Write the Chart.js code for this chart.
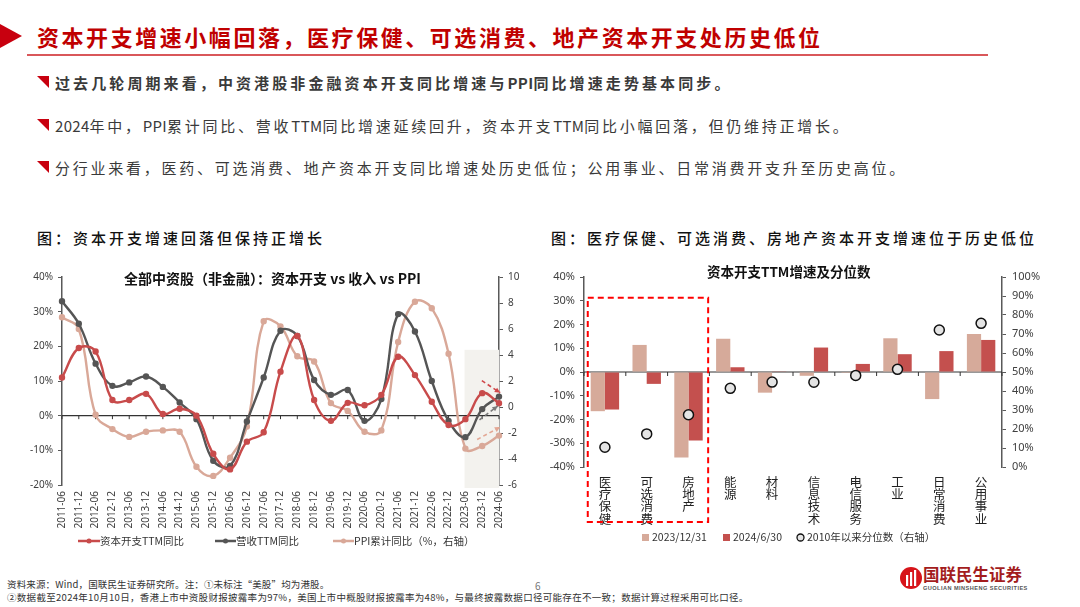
<!DOCTYPE html>
<html><head><meta charset="utf-8">
<script src="https://cdn.jsdelivr.net/npm/chart.js@4.4.1/dist/chart.umd.min.js"></script>
<style>
html,body{margin:0;padding:0;background:#fff;}
#page{position:relative;width:1080px;height:607px;overflow:hidden;font-family:"Noto Sans CJK SC","Noto Sans",sans-serif;}
.abs{position:absolute;white-space:nowrap;}
#title{left:37px;top:21px;font-size:22px;line-height:30px;color:#c00000;font-weight:700;letter-spacing:2.55px;}
#tri{left:0;top:24px;width:0;height:0;border-top:12px solid transparent;border-bottom:12px solid transparent;border-left:22px solid #c8000f;}
#rule{left:27px;top:54px;width:961px;height:1.5px;background:#d9575a;}
.bul{left:55px;font-size:15px;line-height:20px;color:#3a3a3a;}
.mk{position:absolute;left:37px;width:0;height:0;border-top:12px solid #c8000f;border-left:12px solid transparent;}
.lat{letter-spacing:0.3px;}
.sub{font-size:15px;line-height:20px;color:#111;font-weight:500;letter-spacing:3px;top:228px;}
.ctitle{font-size:14px;font-weight:700;color:#111;line-height:18px;}
canvas{position:absolute;}
.leg{font-size:10.5px;color:#333;line-height:14px;}
.foot{font-size:9.5px;color:#333;left:7px;line-height:12px;}
</style></head>
<body><div id="page">
<div id="tri" class="abs"></div>
<div id="title" class="abs">资本开支增速小幅回落，医疗保健、可选消费、地产资本开支处历史低位</div>
<div id="rule" class="abs"></div>

<div class="mk" style="top:76px"></div>
<div class="abs bul" style="top:73px;font-weight:700;letter-spacing:3.1px;">过去几轮周期来看，中资港股非金融资本开支同比增速与<span class="lat">PPI</span>同比增速走势基本同步。</div>
<div class="mk" style="top:119px"></div>
<div class="abs bul" style="top:116px;letter-spacing:2.75px;"><span class="lat">2024</span>年中，<span class="lat">PPI</span>累计同比、营收<span class="lat">TTM</span>同比增速延续回升，资本开支<span class="lat">TTM</span>同比小幅回落，但仍维持正增长。</div>
<div class="mk" style="top:161px"></div>
<div class="abs bul" style="top:158px;letter-spacing:2.75px;">分行业来看，医药、可选消费、地产资本开支同比增速处历史低位；公用事业、日常消费开支升至历史高位。</div>

<div class="abs sub" style="left:37px;">图：资本开支增速回落但保持正增长</div>
<div class="abs sub" style="left:551px;">图：医疗保健、可选消费、房地产资本开支增速位于历史低位</div>

<canvas id="cL" width="540" height="300" style="left:0;top:260px;width:540px;height:300px;"></canvas>
<canvas id="cR" width="540" height="300" style="left:540px;top:260px;width:540px;height:300px;"></canvas>

<div class="abs ctitle" style="left:124px;top:269px;">全部中资股（非金融）：资本开支 vs 收入 vs PPI</div>
<div class="abs ctitle" style="left:707px;top:262px;font-size:13.5px;">资本开支TTM增速及分位数</div>

<!-- left legend -->
<div class="abs leg" style="left:78px;top:534px;">
  <svg width="22" height="10" style="vertical-align:-1px"><line x1="0" y1="5" x2="22" y2="5" stroke="#c84b4b" stroke-width="2.5"/><circle cx="11" cy="5" r="2.5" fill="#c84b4b"/></svg>资本开支TTM同比</div>
<div class="abs leg" style="left:215px;top:534px;">
  <svg width="21" height="10" style="vertical-align:-1px"><line x1="0" y1="5" x2="21" y2="5" stroke="#555" stroke-width="2.5"/><circle cx="10.5" cy="5" r="2.5" fill="#555"/></svg>营收TTM同比</div>
<div class="abs leg" style="left:333px;top:534px;">
  <svg width="21" height="10" style="vertical-align:-1px"><line x1="0" y1="5" x2="21" y2="5" stroke="#d9a898" stroke-width="2.5"/><circle cx="10.5" cy="5" r="2.5" fill="#d9a898"/></svg>PPI累计同比（%，右轴）</div>

<!-- right legend -->
<div class="abs leg" style="left:642px;top:530px;"><span style="display:inline-block;width:7px;height:7px;background:#d6aa9a;margin-right:3px;"></span>2023/12/31</div>
<div class="abs leg" style="left:723px;top:530px;"><span style="display:inline-block;width:7px;height:7px;background:#c4504e;margin-right:3px;"></span>2024/6/30</div>
<div class="abs leg" style="left:796px;top:530px;"><svg width="9" height="9" style="vertical-align:-1px;margin-right:2px"><circle cx="4.5" cy="4.5" r="3.5" fill="#e6e6e6" stroke="#111" stroke-width="1.3"/></svg>2010年以来分位数（右轴）</div>

<div class="abs foot" style="top:578px;letter-spacing:0.15px;">资料来源：Wind，国联民生证券研究所。注：①未标注“美股”均为港股。</div>
<div class="abs foot" style="top:591px;letter-spacing:0.3px;">②数据截至2024年10月10日，香港上市中资股财报披露率为97%，美国上市中概股财报披露率为48%，与最终披露数据口径可能存在不一致；数据计算过程采用可比口径。</div>
<div class="abs" style="left:535px;top:578px;font-size:10px;color:#777;">6</div>

<!-- logo -->
<svg class="abs" style="left:899px;top:566px;" width="24" height="24" viewBox="0 0 24 24">
  <circle cx="12" cy="12" r="11" fill="#d7141a"/>
  <rect x="7" y="9" width="2.2" height="11" fill="#fff"/>
  <rect x="11" y="6" width="2.2" height="14" fill="#fff"/>
  <rect x="15" y="4" width="2.2" height="16" fill="#fff"/>
</svg>
<div class="abs" style="left:923px;top:564px;font-size:16.5px;font-weight:700;color:#a31d1d;line-height:20px;">国联民生证券</div>
<div class="abs" style="left:923px;top:585px;font-size:5.6px;font-weight:700;color:#555;letter-spacing:0.45px;font-family:'Liberation Sans',sans-serif;">GUOLIAN MINSHENG SECURITIES</div>
</div>

<script>
// ---------- Left chart data ----------
const halfYears = ['2011-06','2011-12','2012-06','2012-12','2013-06','2013-12','2014-06','2014-12','2015-06','2015-12','2016-06','2016-12','2017-06','2017-12','2018-06','2018-12','2019-06','2019-12','2020-06','2020-12','2021-06','2021-12','2022-06','2022-12','2023-06','2023-12','2024-06'];
const capexYoY   = [11, 19.5, 18.5, 4.5, 4.5, 6.3, 0.5, 2, 0, -11, -15.5, -7.5, -4.8, 12.7, 23, 4.5, -1.5, 3.7, 3, 6, 17, 11.7, 4, -2.7, -1, 6.5, 3.6];
const revenueYoY = [33, 26.5, 15, 8.6, 9.6, 11.3, 8.3, 3.8, -1, -13, -14.5, -1.7, 11, 24.5, 23, 10.3, 6, 7.4, -1.5, 4.8, 29.3, 24.3, 10, -1.5, -6.2, 1.9, 5.5];
const ppiYtd     = [6.9, 6.0, -0.6, -1.7, -2.3, -1.9, -1.8, -1.9, -4.6, -5.3, -3.9, -1.5, 6.6, 6.2, 3.9, 3.5, 0.3, -0.3, -1.9, -1.8, 5.0, 8.1, 7.6, 4.1, -3.2, -3.0, -2.2];
const leftTicks  = [-20, -10, 0, 10, 20, 30, 40];
const rightTicks = [-6, -4, -2, 0, 2, 4, 6, 8, 10];
// trend arrows (x = half-year index, y = value)
const capexArrow = [{x:24.98, y:10.1}, {x:26.07, y:6.6}];
const revArrow   = [{x:24.84, y:-1.2}, {x:25.93, y:2.8}];
const ppiArrow   = [{x:24.7, y:-2.5}, {x:26.07, y:-1.54}];
const shadeFromIndex = 23.95, shadeTopValue = 19;

// ---------- Right chart data ----------
const sectors = ['医疗保健','可选消费','房地产','能源','材料','信息技术','电信服务','工业','日常消费','公用事业'];
const capex2023 = [-16.5, 11.4, -36, 14, -8.7, -1.6, -0.4, 14.2, -11.4, 16];
const capex2024 = [-15.8, -5, -28.8, 2, 0.3, 10.3, 3.4, 7.5, 8.8, 13.5];
const pctSince2010 = [10.4, 17.4, 27.5, 41.4, 44.7, 44.6, 48.2, 51.4, 72.1, 75.6];
const highlightCount = 3, highlightTop = 31.3;

const RED = '#c84b4b', GRAY = '#555555', PINK = '#d9a898', AXIS = '#595959';
Chart.defaults.font.family = '"Noto Sans","Noto Sans CJK SC",sans-serif';
Chart.defaults.color = '#404040';

const arrowHeads = {
  id:'arrowHeads',
  afterDatasetsDraw(chart){
    const ctx = chart.ctx;
    chart.data.datasets.forEach((ds,i)=>{
      if(!ds.arrow) return;
      const pts = chart.getDatasetMeta(i).data;
      const a = pts[pts.length-2], b = pts[pts.length-1];
      const ang = Math.atan2(b.y-a.y, b.x-a.x), L = 6;
      ctx.save();
      ctx.fillStyle = ds.borderColor;
      ctx.beginPath();
      ctx.moveTo(b.x, b.y);
      ctx.lineTo(b.x - L*Math.cos(ang-0.45), b.y - L*Math.sin(ang-0.45));
      ctx.lineTo(b.x - L*Math.cos(ang+0.45), b.y - L*Math.sin(ang+0.45));
      ctx.closePath(); ctx.fill();
      ctx.restore();
    });
  }
};
const leftDecor = {
  id:'leftDecor',
  beforeDatasetsDraw(chart){
    const {ctx, chartArea:ca, scales} = chart;
    const xi = scales.xIdx, yL = scales.yL;
    ctx.save();
    ctx.fillStyle = '#f3f2ee';
    const x1 = xi.getPixelForValue(shadeFromIndex), y1 = yL.getPixelForValue(shadeTopValue);
    ctx.fillRect(x1, y1, ca.right - x1, ca.bottom + 3 - y1);
    const y0 = yL.getPixelForValue(0);
    ctx.strokeStyle = '#333'; ctx.lineWidth = 1.2;
    ctx.beginPath(); ctx.moveTo(ca.left, y0); ctx.lineTo(ca.right, y0); ctx.stroke();
    ctx.lineWidth = 1;
    halfYears.forEach((_,i)=>{
      const x = scales.x.getPixelForValue(i);
      ctx.beginPath(); ctx.moveTo(x, y0); ctx.lineTo(x, y0+3.5); ctx.stroke();
    });
    ctx.restore();
  }
};

function lineDs(label, data, color, axis, order){
  return {label, data, borderColor:color, backgroundColor:color, pointBackgroundColor:color, pointBorderColor:color,
    yAxisID:axis, xAxisID:'x', tension:0.4, borderWidth:2.4, pointRadius:2, order};
}
function arrowDs(data, color, axis){
  return {data, borderColor:color, backgroundColor:color, yAxisID:axis, xAxisID:'xIdx', borderDash:[4,3],
    borderWidth:1.6, pointRadius:0, tension:0, arrow:true, clip:false, order:-1};
}
const yTickCommon = {font:{size:10}, color:'#404040', padding:5};
const yGrid = {drawOnChartArea:false, drawTicks:true, tickLength:4, color:AXIS};

new Chart(document.getElementById('cL'), {
  type:'line',
  data:{ labels: halfYears, datasets:[
    lineDs('资本开支TTM同比', capexYoY, RED, 'yL', 0),
    lineDs('营收TTM同比', revenueYoY, GRAY, 'yL', 1),
    lineDs('PPI累计同比（%，右轴）', ppiYtd, PINK, 'yR', 2),
    arrowDs(capexArrow, '#d0484a', 'yL'),
    arrowDs(revArrow, '#7a7a7a', 'yL'),
    arrowDs(ppiArrow, '#e3a794', 'yR')
  ]},
  options:{
    responsive:false, animation:false, devicePixelRatio:1,
    layout:{padding:{top:17,left:0,right:0,bottom:0}},
    plugins:{legend:{display:false}, tooltip:{enabled:false}},
    scales:{
      x:{type:'category', offset:false, grid:{display:false, drawTicks:false}, border:{display:false},
         ticks:{autoSkip:false, maxRotation:90, minRotation:90, padding:6, font:{size:10}, color:'#404040'},
         afterFit:s=>{s.height=75;}},
      xIdx:{type:'linear', display:false, min:0, max:halfYears.length-1},
      yL:{position:'left', min:leftTicks[0], max:leftTicks[leftTicks.length-1],
          afterBuildTicks:s=>{s.ticks = leftTicks.map(v=>({value:v}));},
          ticks:{...yTickCommon, callback:v=>v+'%'}, grid:yGrid, border:{color:AXIS, width:1.5},
          afterFit:s=>{s.width=62;}},
      yR:{position:'right', min:rightTicks[0], max:rightTicks[rightTicks.length-1],
          afterBuildTicks:s=>{s.ticks = rightTicks.map(v=>({value:v}));},
          ticks:{...yTickCommon, callback:v=>String(v)}, grid:yGrid, border:{color:AXIS, width:1.5},
          afterFit:s=>{s.width=41;}}
    }
  },
  plugins:[leftDecor, arrowHeads]
});

// ---------- Right chart ----------
const rightDecor = {
  id:'rightDecor',
  beforeDatasetsDraw(chart){
    const {ctx, chartArea:ca, scales} = chart;
    const y0 = scales.y.getPixelForValue(0);
    ctx.save();
    ctx.strokeStyle = '#333'; ctx.lineWidth = 1.2;
    ctx.beginPath(); ctx.moveTo(ca.left, y0); ctx.lineTo(ca.right, y0); ctx.stroke();
    ctx.lineWidth = 1;
    for(let i=0;i<=sectors.length;i++){
      const x = scales.x.getPixelForValue(i-0.5);
      ctx.beginPath(); ctx.moveTo(x, y0); ctx.lineTo(x, y0+4); ctx.stroke();
    }
    ctx.restore();
  },
  afterDatasetsDraw(chart){
    const {ctx, chartArea:ca, scales} = chart;
    const step = scales.x.getPixelForValue(1) - scales.x.getPixelForValue(0);
    const l = scales.x.getPixelForValue(0) - 0.41*step;
    const r = scales.x.getPixelForValue(highlightCount-1) + 0.47*step;
    const t = scales.y.getPixelForValue(highlightTop);
    const b = ca.bottom + 55;
    ctx.save();
    ctx.strokeStyle = '#ff0000'; ctx.lineWidth = 2; ctx.setLineDash([6,4]);
    ctx.strokeRect(l, t, r-l, b-t);
    ctx.restore();
  }
};

new Chart(document.getElementById('cR'), {
  type:'bar',
  data:{ labels: sectors.map(s=>s.split('')), datasets:[
    {type:'line', label:'2010年以来分位数（右轴）', data:pctSince2010, yAxisID:'y2', showLine:false,
     pointRadius:5, pointBackgroundColor:'#e4e4e4', pointBorderColor:'#111', pointBorderWidth:1.5, order:0},
    {label:'2023/12/31', data:capex2023, backgroundColor:'#d6aa9a', yAxisID:'y', categoryPercentage:0.68, barPercentage:1, order:1},
    {label:'2024/6/30', data:capex2024, backgroundColor:'#c4504e', yAxisID:'y', categoryPercentage:0.68, barPercentage:1, order:1}
  ]},
  options:{
    responsive:false, animation:false, devicePixelRatio:1,
    layout:{padding:{top:17,left:0,right:0,bottom:0}},
    plugins:{legend:{display:false}, tooltip:{enabled:false}},
    scales:{
      x:{type:'category', offset:true, grid:{display:false, drawTicks:false}, border:{display:false},
         ticks:{autoSkip:false, maxRotation:0, minRotation:0, padding:9, font:{size:12.5, lineHeight:0.98,
         family:'"Noto Sans CJK SC",sans-serif'}, color:'#222'},
         afterFit:s=>{s.height=93;}},
      y:{position:'left', min:-40, max:40, ticks:{stepSize:10, font:{size:11}, color:'#404040', padding:5, callback:v=>Math.round(v)+'%'},
         grid:yGrid, border:{color:AXIS, width:1.5}, afterFit:s=>{s.width=44;}},
      y2:{position:'right', min:0, max:100, ticks:{stepSize:10, font:{size:11}, color:'#404040', padding:6, callback:v=>Math.round(v)+'%'},
         grid:yGrid, border:{color:AXIS, width:1.5}, afterFit:s=>{s.width=78;}}
    }
  },
  plugins:[rightDecor]
});
</script>
</body></html>
